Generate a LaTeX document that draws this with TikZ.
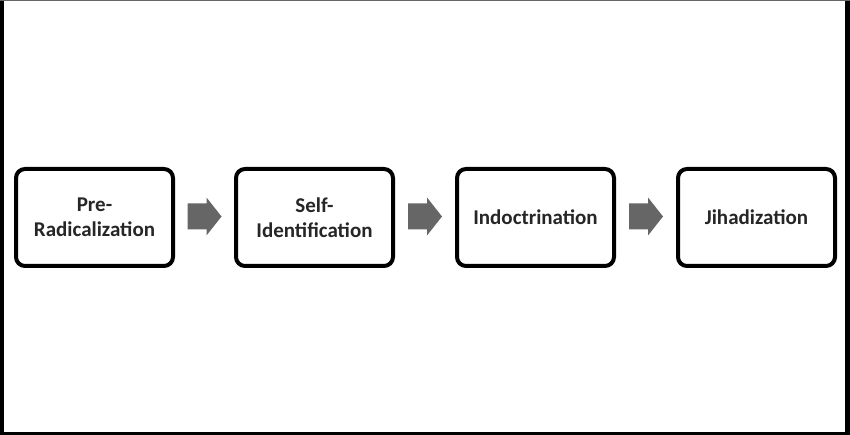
\documentclass[tikz,border=0pt]{standalone}
\usepackage{fontspec}
\setmainfont{Carlito}
\usetikzlibrary{calc}
\begin{document}
\begin{tikzpicture}[x=1pt,y=-1pt,
  stage/.style={draw=black, line width=4pt, rounded corners=9pt, fill=white,
    minimum width=157pt, minimum height=97pt, inner sep=0pt, align=center,
    font=\bfseries\fontsize{21}{25}\selectfont, text=black!85},
  flowarrow/.style={fill=black!60, draw=none}]
\useasboundingbox (0,0) rectangle (850,435);
\fill[white] (0,0) rectangle (850,435);
% frame
\fill[black] (0,0) rectangle (4,435);
\fill[black] (845,0) rectangle (850,435);
\fill[black] (0,432) rectangle (850,435);
\fill[black!60] (0,0) rectangle (850,1.5);
% stages
\node[stage] (s1) at (94.5,217.5) {Pre-\\Radicalization};
\node[stage] (s2) at (314.5,217.5) {Self-\\Identification};
\node[stage] (s3) at (535.5,217.5) {Indoctrination};
\node[stage] (s4) at (756.5,217.5) {Jihadization};
% arrows
\foreach \a/\b in {s1/s2,s2/s3,s3/s4}{
  \coordinate (m) at ($(\a.east)!0.5!(\b.west)+(0,-1)$);
  \fill[flowarrow, shift={(m)}] (-17,-13) -- (2,-13) -- (2,-19) -- (17,0)
    -- (2,19) -- (2,13) -- (-17,13) -- cycle;
}
\end{tikzpicture}
\end{document}
